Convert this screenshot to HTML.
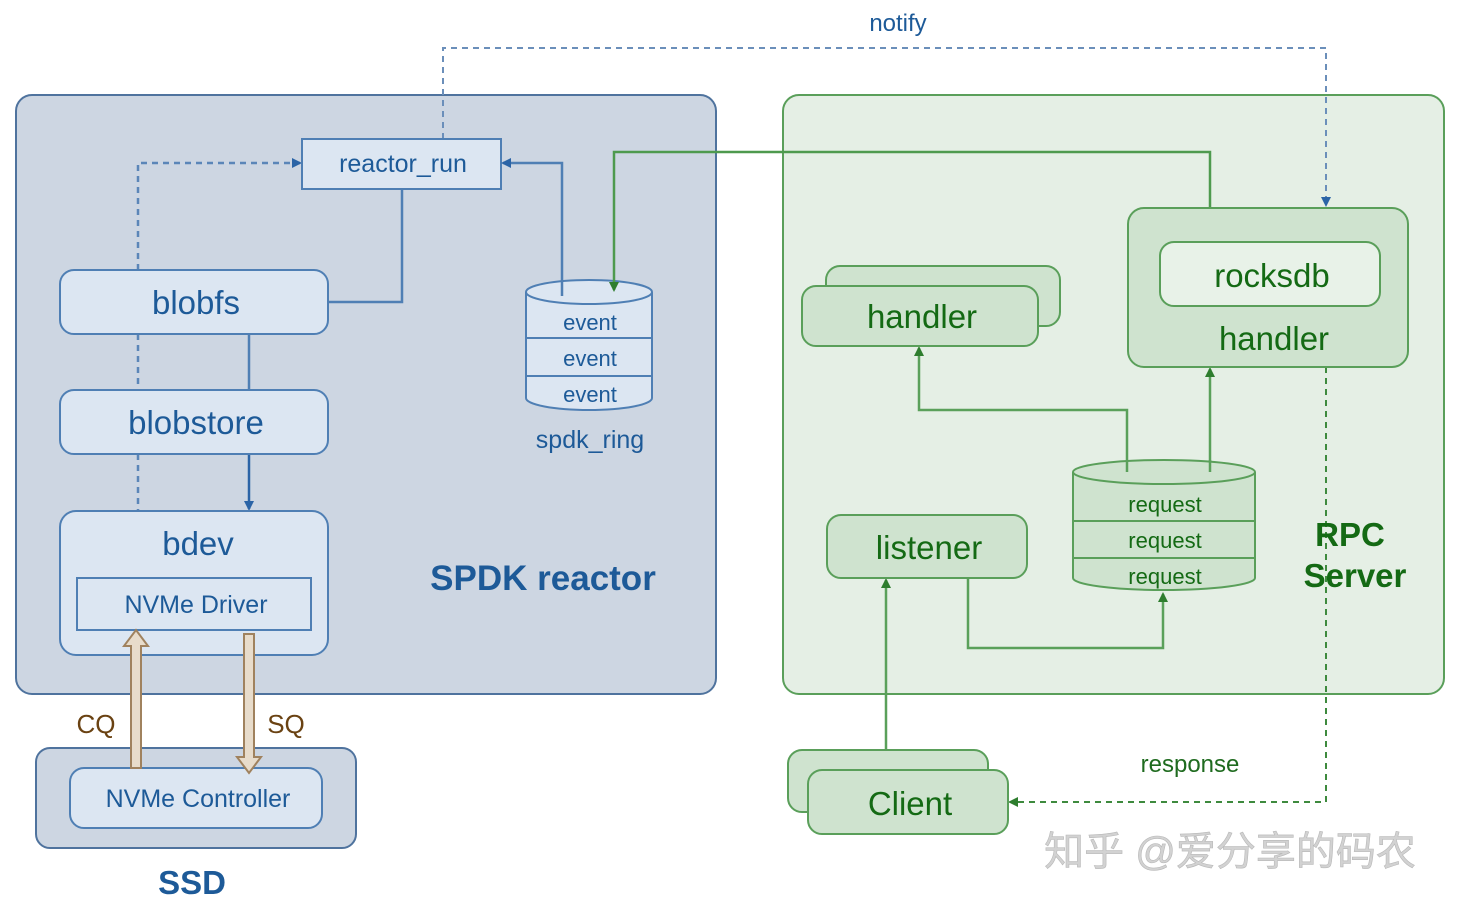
<!DOCTYPE html>
<html><head><meta charset="utf-8"><style>
html,body{margin:0;padding:0;background:#fff;}
svg{display:block;}
text{font-family:"Liberation Sans","Noto Sans CJK SC",sans-serif;}
</style></head><body>
<svg width="1466" height="910" viewBox="0 0 1466 910" xmlns="http://www.w3.org/2000/svg">
<defs>
<marker id="ab" markerWidth="10" markerHeight="10" refX="8" refY="5" orient="auto" markerUnits="userSpaceOnUse"><path d="M0,0 L10,5 L0,10 z" fill="#2b64a6"/></marker>
<marker id="ag" markerWidth="10" markerHeight="10" refX="8" refY="5" orient="auto" markerUnits="userSpaceOnUse"><path d="M0,0 L10,5 L0,10 z" fill="#2e7d2e"/></marker>
</defs>
<rect width="1466" height="910" fill="#fff"/>
<rect x="16" y="95" width="700" height="599" rx="16" fill="#cdd6e2" stroke="#4f739e" stroke-width="2"/>
<rect x="783" y="95" width="661" height="599" rx="16" fill="#e5efe5" stroke="#5a9f5a" stroke-width="2"/>

<path d="M443,139 V48 H1326 V205" fill="none" stroke="#6b8fba" stroke-width="2" stroke-dasharray="6,5" marker-end="url(#ab)"/>
<text x="898" y="31" font-size="24" fill="#1d5a98" text-anchor="middle">notify</text>

<path d="M138,270 V163 H300" fill="none" stroke="#5b86b8" stroke-width="2.5" stroke-dasharray="6,5" marker-end="url(#ab)"/>
<path d="M138,334 V390 M138,454 V511" fill="none" stroke="#5b86b8" stroke-width="2.5" stroke-dasharray="6,5"/>
<path d="M328,302 H402 V189" fill="none" stroke="#4f7fb4" stroke-width="2.5"/>
<path d="M249,334 V390" fill="none" stroke="#4f7fb4" stroke-width="2.5"/>
<path d="M249,454 V509" fill="none" stroke="#2b64a6" stroke-width="2.5" marker-end="url(#ab)"/>

<rect x="302" y="139" width="199" height="50" fill="#dce6f2" stroke="#4f7fb4" stroke-width="2"/>
<text x="403" y="172" font-size="25" fill="#1d5a98" text-anchor="middle">reactor_run</text>

<rect x="60" y="270" width="268" height="64" rx="14" fill="#dce6f2" stroke="#4f7fb4" stroke-width="2"/>
<text x="196" y="314" font-size="33" fill="#1d5a98" text-anchor="middle">blobfs</text>
<rect x="60" y="390" width="268" height="64" rx="14" fill="#dce6f2" stroke="#4f7fb4" stroke-width="2"/>
<text x="196" y="434" font-size="33" fill="#1d5a98" text-anchor="middle">blobstore</text>

<rect x="60" y="511" width="268" height="144" rx="16" fill="#dce6f2" stroke="#4f7fb4" stroke-width="2"/>
<text x="198" y="555" font-size="33" fill="#1d5a98" text-anchor="middle">bdev</text>
<rect x="77" y="578" width="234" height="52" fill="#dce6f2" stroke="#4f7fb4" stroke-width="2"/>
<text x="196" y="613" font-size="25" fill="#1d5a98" text-anchor="middle">NVMe Driver</text>

<text x="543" y="590" font-size="35" font-weight="bold" fill="#1d5a98" text-anchor="middle">SPDK reactor</text>

<path d="M526,292 V398 A63,12 0 0 0 652,398 V292" fill="#dce6f2" stroke="#4f7fb4" stroke-width="2"/>
<ellipse cx="589" cy="292" rx="63" ry="12" fill="#dce6f2" stroke="#4f7fb4" stroke-width="2"/>
<line x1="526" y1="338" x2="652" y2="338" stroke="#4f7fb4" stroke-width="2"/>
<line x1="526" y1="376" x2="652" y2="376" stroke="#4f7fb4" stroke-width="2"/>
<path d="M562,296 V163 H503" fill="none" stroke="#4f7fb4" stroke-width="2.5" marker-end="url(#ab)"/>
<path d="M1210,208 V152 H614 V290" fill="none" stroke="#4e9a4e" stroke-width="2.5" marker-end="url(#ag)"/>
<text x="590" y="330" font-size="22" fill="#1d5a98" text-anchor="middle">event</text>
<text x="590" y="366" font-size="22" fill="#1d5a98" text-anchor="middle">event</text>
<text x="590" y="402" font-size="22" fill="#1d5a98" text-anchor="middle">event</text>
<text x="590" y="448" font-size="25" fill="#1d5a98" text-anchor="middle">spdk_ring</text>

<rect x="36" y="748" width="320" height="100" rx="14" fill="#cdd6e2" stroke="#4f739e" stroke-width="2"/>
<rect x="70" y="768" width="252" height="60" rx="14" fill="#dce6f2" stroke="#4f7fb4" stroke-width="2"/>
<text x="198" y="807" font-size="25" fill="#1d5a98" text-anchor="middle">NVMe Controller</text>
<text x="192" y="894" font-size="33" font-weight="bold" fill="#1d5a98" text-anchor="middle">SSD</text>

<path d="M131,768 V646 H124 L136,630 L148,646 H141 V768 Z" fill="#e8dccb" stroke="#a0825e" stroke-width="2"/>
<path d="M244,634 H254 V757 H261 L249,773 L237,757 H244 Z" fill="#e8dccb" stroke="#a0825e" stroke-width="2"/>
<text x="96" y="733" font-size="26" fill="#6a4212" text-anchor="middle">CQ</text>
<text x="286" y="733" font-size="26" fill="#6a4212" text-anchor="middle">SQ</text>

<path d="M1127,472 V410 H919 V348" fill="none" stroke="#5aa05a" stroke-width="2.5" marker-end="url(#ag)"/>
<path d="M1210,472 V369" fill="none" stroke="#5aa05a" stroke-width="2.5" marker-end="url(#ag)"/>
<path d="M968,578 V648 H1163 V594" fill="none" stroke="#5aa05a" stroke-width="2.5" marker-end="url(#ag)"/>
<path d="M886,750 V580" fill="none" stroke="#5aa05a" stroke-width="2.5" marker-end="url(#ag)"/>
<path d="M1326,367 V802 H1010" fill="none" stroke="#3e8a3e" stroke-width="2" stroke-dasharray="6,5" marker-end="url(#ag)"/>
<text x="1190" y="772" font-size="24" fill="#1f6b1f" text-anchor="middle">response</text>

<rect x="826" y="266" width="234" height="60" rx="14" fill="#cfe3cf" stroke="#5a9f5a" stroke-width="2"/>
<rect x="802" y="286" width="236" height="60" rx="14" fill="#cfe3cf" stroke="#5a9f5a" stroke-width="2"/>
<text x="922" y="328" font-size="33" fill="#146a14" text-anchor="middle">handler</text>

<rect x="1128" y="208" width="280" height="159" rx="16" fill="#cfe3cf" stroke="#5a9f5a" stroke-width="2"/>
<rect x="1160" y="242" width="220" height="64" rx="14" fill="#e8f2e8" stroke="#5a9f5a" stroke-width="2"/>
<text x="1272" y="287" font-size="33" fill="#146a14" text-anchor="middle">rocksdb</text>
<text x="1274" y="350" font-size="33" fill="#146a14" text-anchor="middle">handler</text>

<path d="M1073,472 V578 A91,12 0 0 0 1255,578 V472" fill="#cfe3cf" stroke="#5a9f5a" stroke-width="2"/>
<ellipse cx="1164" cy="472" rx="91" ry="12" fill="#cfe3cf" stroke="#5a9f5a" stroke-width="2"/>
<line x1="1073" y1="521" x2="1255" y2="521" stroke="#5a9f5a" stroke-width="2"/>
<line x1="1073" y1="558" x2="1255" y2="558" stroke="#5a9f5a" stroke-width="2"/>
<path d="M1127,460 V472 M1210,460 V472" stroke="#5aa05a" stroke-width="2.5"/>
<text x="1165" y="512" font-size="22" fill="#146a14" text-anchor="middle">request</text>
<text x="1165" y="548" font-size="22" fill="#146a14" text-anchor="middle">request</text>
<text x="1165" y="584" font-size="22" fill="#146a14" text-anchor="middle">request</text>

<rect x="827" y="515" width="200" height="63" rx="14" fill="#cfe3cf" stroke="#5a9f5a" stroke-width="2"/>
<text x="929" y="559" font-size="33" fill="#146a14" text-anchor="middle">listener</text>

<text x="1350" y="546" font-size="33" font-weight="bold" fill="#146a14" text-anchor="middle">RPC</text>
<text x="1355" y="587" font-size="33" font-weight="bold" fill="#146a14" text-anchor="middle">Server</text>

<rect x="788" y="750" width="200" height="62" rx="14" fill="#cfe3cf" stroke="#5a9f5a" stroke-width="2"/>
<rect x="808" y="770" width="200" height="64" rx="14" fill="#cfe3cf" stroke="#5a9f5a" stroke-width="2"/>
<text x="910" y="815" font-size="33" fill="#146a14" text-anchor="middle">Client</text>

<text x="1230" y="865" font-size="40" fill="#d2d2d2" stroke="#b8b8b8" stroke-width="0.6" text-anchor="middle">知乎 @爱分享的码农</text>
</svg>
</body></html>
